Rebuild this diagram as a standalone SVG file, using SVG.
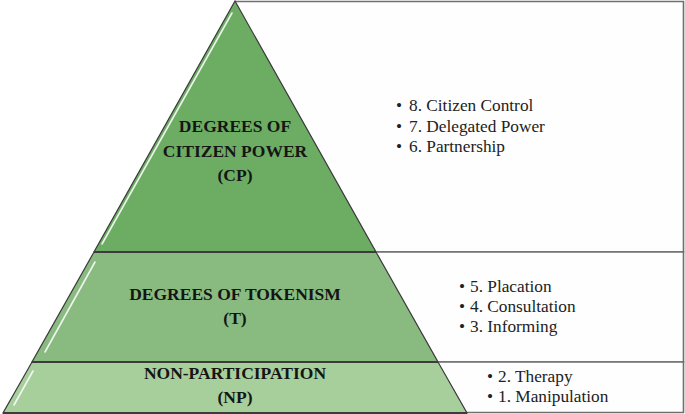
<svg xmlns="http://www.w3.org/2000/svg" width="685" height="414" viewBox="0 0 685 414">
<style>
.box{fill:#fefefe;stroke:#6f6f6f;stroke-width:1.6}
.band{stroke:#3a3a3a;stroke-width:1.2}
.sep{stroke:#3c3c3c;stroke-width:2.2}
.hl{stroke:#ffffff;stroke-width:1.6;stroke-linecap:round;opacity:0.85;fill:none}
.lbl{font-weight:bold;font-size:17.5px;fill:#151515;text-anchor:middle}
.li{font-size:17.3px;fill:#222}
</style>
<rect width="685" height="414" fill="#ffffff"/>
<g font-family="Liberation Serif, Times New Roman, DejaVu Serif, serif">
<g id="cp">
  <path class="box" d="M235,1.5 H683.5 V252 H376"/>
  <polygon class="band" points="235,1 376,252 94,252" fill="#6cad63"/>
  <line class="hl" x1="232" y1="13" x2="102" y2="244"/>
  <text class="lbl" x="235" y="132">DEGREES OF</text>
  <text class="lbl" x="235" y="157">CITIZEN POWER</text>
  <text class="lbl" x="235" y="181">(CP)</text>
  <text class="li" x="396" y="111">•</text><text class="li" x="409" y="111">8. Citizen Control</text>
  <text class="li" x="396" y="132">•</text><text class="li" x="409" y="132">7. Delegated Power</text>
  <text class="li" x="396" y="152">•</text><text class="li" x="409" y="152">6. Partnership</text>
</g>
<g id="t">
  <path class="box" d="M376,252 H683.5 V362 H438"/>
  <polygon class="band" points="94,252 376,252 438,362 32,362" fill="#89bb80"/>
  <line class="hl" x1="95" y1="262" x2="45" y2="352"/>
  <text class="lbl" x="235" y="300">DEGREES OF TOKENISM</text>
  <text class="lbl" x="235" y="324">(T)</text>
  <text class="li" x="459" y="292">•</text><text class="li" x="470" y="292">5. Placation</text>
  <text class="li" x="459" y="312">•</text><text class="li" x="470" y="312">4. Consultation</text>
  <text class="li" x="459" y="332">•</text><text class="li" x="470" y="332">3. Informing</text>
</g>
<g id="np">
  <path class="box" d="M438,362 H683.5 V412.5 H467"/>
  <polygon class="band" points="32,362 438,362 467,413 3,413" fill="#a7cf9b"/>
  <line class="hl" x1="33" y1="371" x2="14" y2="405"/>
  <text class="lbl" x="235" y="379">NON-PARTICIPATION</text>
  <text class="lbl" x="235" y="403">(NP)</text>
  <text class="li" x="487" y="382">•</text><text class="li" x="498" y="382">2. Therapy</text>
  <text class="li" x="487" y="402">•</text><text class="li" x="498" y="402">1. Manipulation</text>
</g>
<g id="separators">
  <line class="sep" x1="94" y1="252" x2="376" y2="252"/>
  <line class="sep" x1="32" y1="362" x2="438" y2="362"/>
  <line class="sep" x1="3" y1="413" x2="467" y2="413"/>
</g>
</g>
</svg>
